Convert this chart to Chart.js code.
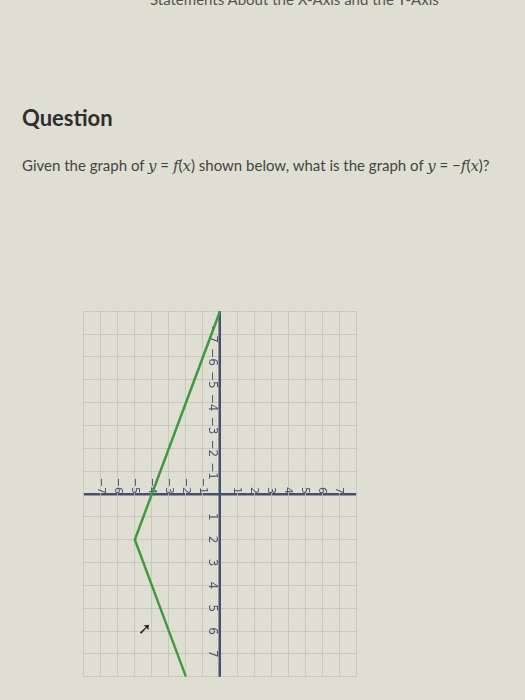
<!DOCTYPE html>
<html><head><meta charset="utf-8">
<script src="https://cdn.jsdelivr.net/npm/chart.js@4"></script>
<style>
body{margin:0;background:#dfded2;font-family:Lato,"Open Sans",sans-serif;color:#3a3a3a;width:525px;height:700px;overflow:hidden;position:relative}
#top{position:absolute;top:-10px;left:150px;font-size:15px;color:#555}
h2{position:absolute;top:104px;left:22px;margin:0;font-size:22px;font-weight:700;color:#2e2e2e}
#q{position:absolute;top:156px;left:22px;font-size:15px;color:#444;white-space:nowrap}
#wrap{position:absolute;left:36px;top:350px;width:368px;height:288px;transform:rotate(90deg);transform-origin:184px 144px}
#arrow{position:absolute;left:138px;top:618px;font-size:16px;color:#222}
i{font-family:"DejaVu Serif",serif}
</style></head><body>
<div id="top">Statements About the X-Axis and the Y-Axis</div>
<h2>Question</h2>
<div id="q">Given the graph of <i>y</i> = <i>f</i>(<i>x</i>) shown below, what is the graph of <i>y</i> = −<i>f</i>(<i>x</i>)?</div>
<div id="wrap"><canvas id="chart"></canvas></div>
<div id="arrow">➚</div>
<script>
const xs = [-8, 2, 8];
const ys = [0, -5, -2];
const tickMin = -8, tickMax = 8;

const pts = xs.map((x,i)=>({x:x, y:ys[i]}));
const lbl = v => (v===0 || Math.abs(v)>7) ? '' : (v<0 ? '−'+(-v) : String(v));
const grid = {
  color: c => c.tick && c.tick.value===0 ? '#46506e' : '#c2c2bb',
  lineWidth: c => c.tick && c.tick.value===0 ? 2.5 : 0.8,
  drawTicks: false
};
new Chart(document.getElementById('chart').getContext('2d'), {
  type:'scatter',
  data:{datasets:[{data:pts, showLine:true, borderColor:'#3f9a3f', borderWidth:2.5, pointRadius:0, fill:false}]},
  options:{
    responsive:true, maintainAspectRatio:false, animation:false,
    layout:{padding:0},
    plugins:{legend:{display:false}, tooltip:{enabled:false}},
    scales:{
      x:{type:'linear', min:tickMin, max:tickMax, position:{y:0},
        border:{display:false},
        grid:{...grid, borderDash:[2,2]},
        ticks:{stepSize:1, autoSkip:false, padding:1, maxRotation:0, color:'#4f5670', font:{size:12, family:'DejaVu Sans'}, callback:lbl}},
      y:{type:'linear', min:tickMin, max:tickMax, position:{x:0},
        border:{display:false},
        grid:{...grid, borderDash:[2,2]},
        ticks:{stepSize:1, autoSkip:false, padding:1, color:'#4f5670', font:{size:11, family:'DejaVu Sans'}, callback:lbl}}
    }
  }
});
</script>
</body></html>
